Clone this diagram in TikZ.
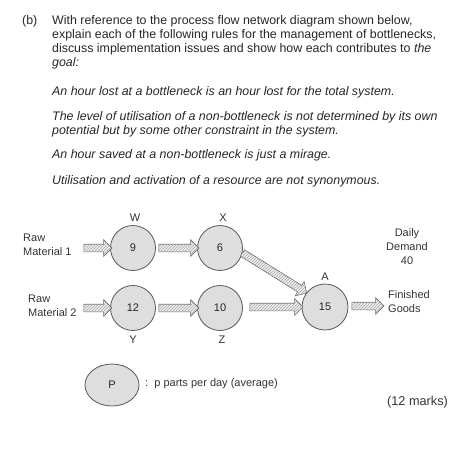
\documentclass[tikz,border=0pt]{standalone}
\usepackage{fontspec}
\setmainfont{Liberation Sans}
\usetikzlibrary{shapes.arrows,shapes.geometric,patterns,calc}
\begin{document}
\begin{tikzpicture}[x=1pt,y=-1pt,
  txt/.style={anchor=west,inner sep=0pt,font=\fontsize{12.4}{14}\selectfont,text=black!85},
  lbl/.style={inner sep=0pt,font=\fontsize{11}{14}\selectfont,text=black!80},
  proc/.style={circle,draw=black!65,line width=0.8pt,fill=black!13,minimum size=45pt,inner sep=0pt,font=\fontsize{11}{13}\selectfont,text=black!85},
  fat/.style={single arrow,draw=black!60,line width=0.6pt,fill=black!6,
    postaction={pattern=north east lines,pattern color=black!35},
    inner sep=0pt,text height=3.5pt,text depth=3.5pt,text width=0pt,
    single arrow head extend=4.5pt,single arrow head indent=0pt}
]
\useasboundingbox (0,0) rectangle (474,451);
% header text
\node[txt] (b) at (22,21) {(b)};
\node[txt] (l1) at (52,21) {With reference to the process flow network diagram shown below,};
\node[txt] (l2) at (52,35) {explain each of the following rules for the management of bottlenecks,};
\node[txt] (l3) at (52,49) {discuss implementation issues and show how each contributes to \textit{the}};
\node[txt] (l4) at (52,63) {\textit{goal:}};
\node[txt] (r1) at (52,92) {\textit{An hour lost at a bottleneck is an hour lost for the total system.}};
\node[txt] (r2a) at (52,117) {\textit{The level of utilisation of a non-bottleneck is not determined by its own}};
\node[txt] (r2b) at (52,131) {\textit{potential but by some other constraint in the system.}};
\node[txt] (r3) at (52,155) {\textit{An hour saved at a non-bottleneck is just a mirage.}};
\node[txt] (r4) at (52,181) {\textit{Utilisation and activation of a resource are not synonymous.}};
% process nodes
\node[proc] (w) at (133,248) {9};
\node[proc] (x) at (220,248) {6};
\node[proc] (y) at (133,308) {12};
\node[proc] (z) at (220,308) {10};
\node[proc,minimum size=46pt] (a) at (325,307) {15};
% node letters
\node[lbl] (wl) at (135,218) {W};
\node[lbl] (xl) at (223,218) {X};
\node[lbl] (yl) at (133,340) {Y};
\node[lbl] (zl) at (222,340) {Z};
\node[lbl] (al) at (325,277) {A};
% side labels
\node[lbl,anchor=west,align=left] (rm1) at (23,245) {Raw\\Material 1};
\node[lbl,anchor=west,align=left] (rm2) at (28,306) {Raw\\Material 2};
\node[lbl,align=center] (dd) at (407,247) {Daily\\Demand\\40};
\node[lbl,anchor=west,align=left] (fg) at (388,302) {Finished\\Goods};
% arrow end points
\coordinate (s1) at (82,248);  \coordinate (e1) at (110,248);
\coordinate (s2) at (157,248); \coordinate (e2) at (197,248);
\coordinate (s3) at (82,308);  \coordinate (e3) at (110,308);
\coordinate (s4) at (157,308); \coordinate (e4) at (197,308);
\coordinate (s5) at (248,307); \coordinate (e5) at (301,307);
\coordinate (s6) at (350,306); \coordinate (e6) at (382,306);
\coordinate (s7) at (241,252); \coordinate (e7) at (305,292);
% fat arrows
\node[fat,minimum height=28pt] (f1) at ($(s1)!0.5!(e1)$) {};
\node[fat,minimum height=40pt] (f2) at ($(s2)!0.5!(e2)$) {};
\node[fat,minimum height=28pt] (f3) at ($(s3)!0.5!(e3)$) {};
\node[fat,minimum height=40pt] (f4) at ($(s4)!0.5!(e4)$) {};
\node[fat,minimum height=53pt] (f5) at ($(s5)!0.5!(e5)$) {};
\node[fat,minimum height=32pt] (f6) at ($(s6)!0.5!(e6)$) {};
\node[fat,minimum height=75.8pt,rotate=-32] (f7) at ($(s7)!0.5!(e7)$) {};
% legend
\node[ellipse,draw=black!65,line width=0.8pt,fill=black!13,minimum width=54pt,minimum height=42pt,inner sep=0pt,font=\fontsize{11}{13}\selectfont,text=black!85] (p) at (112,385) {P};
\node[lbl,anchor=west] (pt) at (145,384) {:\ \ p parts per day (average)};
\node[lbl,anchor=west,font=\fontsize{12.7}{14}\selectfont] (mk) at (387,402) {(12 marks)};
\end{tikzpicture}
\end{document}
